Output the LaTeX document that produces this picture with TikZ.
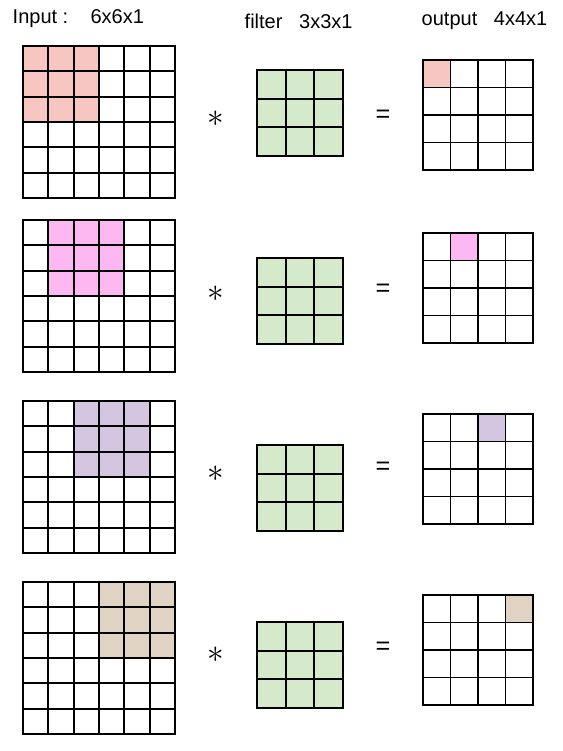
\documentclass[tikz,border=0pt]{standalone}
\usepackage{fontspec}
\setmainfont{Liberation Sans}
\usetikzlibrary{positioning}

\definecolor{patchA}{HTML}{F7C6C1}
\definecolor{patchB}{HTML}{FDB7F1}
\definecolor{patchC}{HTML}{D4C6E1}
\definecolor{patchD}{HTML}{E0D3C3}
\definecolor{filtgreen}{HTML}{D5EACB}

\begin{document}
\begin{tikzpicture}[x=0.75pt, y=-0.75pt,
        gridbox/.style={draw, rectangle, line width=1.4pt, inner sep=0pt, outer sep=0pt, anchor=north west},
        gridline/.style={line width=1.4pt},
        headtext/.style={font=\fontsize{15}{17}\selectfont, anchor=west},
        starsym/.style={font=\fontsize{34}{36}\selectfont},
        eqsym/.style={font=\fontsize{19}{21}\selectfont}]
    \useasboundingbox (0,0) rectangle (562,751);
    \node[headtext] (inhead) at (8,19) {Input :\ \ \ \ 6x6x1};
    \node[headtext] (filthead) at (240,21) {filter\ \ \ 3x3x1};
    \node[headtext] (outhead) at (417,21) {output\ \ \ 4x4x1};
    \foreach \r/\ytop/\yf/\yo/\ystar/\yeq/\col in {1/46/70/60/122/116/patchA, 2/220/258/233/297/290/patchB, 3/401/445/414/477/468/patchC, 4/582/622/595/658/648/patchD} {
        \pgfmathsetmacro\s{\r-1}
        % input 6x6 with the 3x3 window
        \fill[\col] (23+\s*25.33,\ytop) rectangle ++(76,76);
        \node[gridbox, minimum size=114pt] (in\r) at (23,\ytop) {};
        \foreach \i in {1,...,5} {
            \draw[gridline] (in\r.north west) ++(\i*25.33,0) -- ++(0,152);
            \draw[gridline] (in\r.north west) ++(0,\i*25.33) -- ++(152,0);
        }
        % filter 3x3
        \node[starsym] (conv\r) at (216,\ystar-3) {$\ast$};
        \node[gridbox, fill=filtgreen, minimum size=64.5pt] (filt\r) at (257,\yf) {};
        \foreach \i in {1,2} {
            \draw[gridline] (filt\r.north west) ++(\i*28.67,0) -- ++(0,86);
            \draw[gridline] (filt\r.north west) ++(0,\i*28.67) -- ++(86,0);
        }
        \node[eqsym] (eq\r) at (383,\yeq) {=};
        % output 4x4
        \fill[\col] (423+\s*27.5,\yo) rectangle ++(27.5,27.5);
        \node[gridbox, minimum size=82.5pt] (out\r) at (423,\yo) {};
        \foreach \i in {1,2,3} {
            \draw[gridline] (out\r.north west) ++(\i*27.5,0) -- ++(0,110);
            \draw[gridline] (out\r.north west) ++(0,\i*27.5) -- ++(110,0);
        }
    }
\end{tikzpicture}
\end{document}
